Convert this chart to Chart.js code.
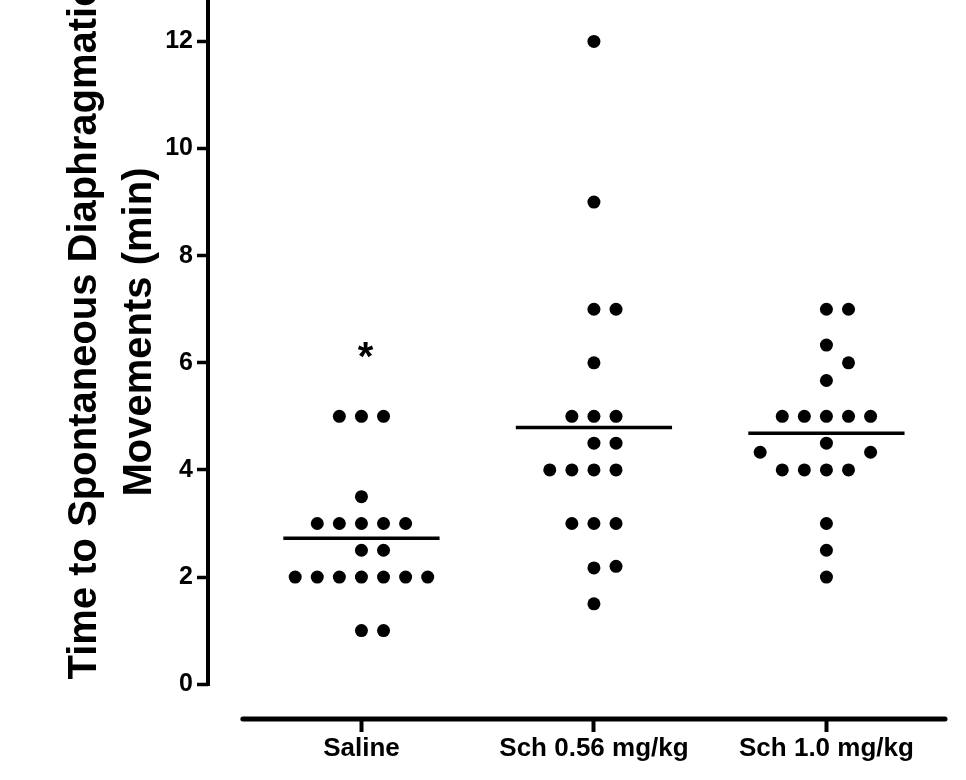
<!DOCTYPE html>
<html>
<head>
<meta charset="utf-8">
<script src="https://cdn.jsdelivr.net/npm/chart.js@4.4.1/dist/chart.umd.min.js"></script>
<style>
  html, body { margin: 0; padding: 0; background: #fff; overflow: hidden; }
  #wrap { width: 966px; height: 780px; overflow: hidden; }
  /* the original figure is cropped at the top, so the canvas is taller and pulled up */
  #dotPlot { display: block; margin-top: -65px; }
</style>
</head>
<body>
<div id="wrap"><canvas id="dotPlot" width="966" height="845"></canvas></div>
<script>
// --- data (minutes) ---
const groups = ['Saline', 'Sch 0.56 mg/kg', 'Sch 1.0 mg/kg'];
const saline = [5, 5, 5, 3.5, 3, 3, 3, 3, 3, 2.5, 2.5, 2, 2, 2, 2, 2, 2, 2, 1, 1];
const sch056 = [12, 9, 7, 7, 6, 5, 5, 5, 4.5, 4.5, 4, 4, 4, 4, 3, 3, 3, 2.2, 2.17, 1.5];
const sch10 = [7, 7, 6.33, 6, 5.67, 5, 5, 5, 5, 5, 4.5, 4.33, 4.33, 4, 4, 4, 4, 3, 2.5, 2];
const significance = ['*', '', ''];
const yTicks = [0, 2, 4, 6, 8, 10, 12];
const seriesValues = [saline, sch056, sch10];

// --- layout constants ---
const FONT = '"Liberation Sans", Arial, sans-serif';
const SLOT = 0.095;              // horizontal step between side-by-side dots (x units)
const SLOT_PX = 22, Y_PX = 53.6, MIN_GAP_PX = 21;
const MEAN_HALF = 0.336;         // half length of the mean bar (x units)
const X_LINE = [-0.51, 2.51];    // extent of the detached x axis line
const SIG_GAP = 0.86;

// simple beeswarm: place dots bottom-up in the nearest free slot to the centre.
// tied values alternate sides; long tie rows start on the left, others on the right
function swarm(values, center) {
  const placed = [];
  const sorted = values.slice().sort((a, b) => a - b);
  sorted.forEach(v => {
    const ties = placed.filter(p => p.y === v);
    let dir = sorted.filter(w => w === v).length >= 4 ? -1 : 1;
    if (ties.length) {
      const last = ties[ties.length - 1].slot;
      if (last > 0) dir = -1;
      else if (last < 0) dir = 1;
    }
    for (let k = 0; ; k++) {
      const slot = k === 0 ? 0 : (k % 2 ? dir * Math.ceil(k / 2) : -dir * k / 2);
      const hit = placed.some(p => Math.hypot((p.slot - slot) * SLOT_PX, (p.y - v) * Y_PX) < MIN_GAP_PX);
      if (!hit) { placed.push({ slot: slot, y: v }); break; }
    }
  });
  return placed.map(p => ({ x: center + p.slot * SLOT, y: p.y }));
}

function mean(arr) {
  return arr.reduce((a, b) => a + b, 0) / arr.length;
}

const datasets = [];
seriesValues.forEach((vals, i) => {
  datasets.push({
    label: groups[i],
    data: swarm(vals, i),
    pointRadius: 6.5,
    pointHoverRadius: 6.5,
    pointBackgroundColor: '#000',
    pointBorderWidth: 0,
    showLine: false
  });
  const m = mean(vals);
  datasets.push({
    label: groups[i] + ' mean',
    data: [{ x: i - MEAN_HALF, y: m }, { x: i + MEAN_HALF, y: m }],
    showLine: true,
    borderColor: '#000',
    borderWidth: 3.5,
    pointRadius: 0
  });
});

// axis lines drawn like the GraphPad original: y axis stops at 0, x axis is detached
const axisLines = {
  id: 'axisLines',
  afterDraw(chart) {
    const { ctx, chartArea, scales: { x, y } } = chart;
    ctx.save();
    ctx.strokeStyle = '#000';
    ctx.lineWidth = 4;
    ctx.beginPath();
    ctx.moveTo(chartArea.left, y.getPixelForValue(0) + 1.75);
    ctx.lineTo(chartArea.left, chartArea.top);
    ctx.stroke();

    ctx.lineCap = 'round';
    ctx.lineWidth = 5;
    ctx.beginPath();
    ctx.moveTo(x.getPixelForValue(X_LINE[0]), chartArea.bottom);
    ctx.lineTo(x.getPixelForValue(X_LINE[1]), chartArea.bottom);
    ctx.stroke();

    ctx.fillStyle = '#000';
    ctx.font = 'bold 40px ' + FONT;
    ctx.textAlign = 'center';
    ctx.textBaseline = 'alphabetic';
    significance.forEach((s, i) => {
      if (!s) return;
      const top = Math.max(...seriesValues[i]);
      ctx.fillText(s, x.getPixelForValue(i) + 4, y.getPixelForValue(top + SIG_GAP));
    });
    ctx.restore();
  }
};

Chart.defaults.font.family = FONT;
Chart.defaults.color = '#000';

new Chart(document.getElementById('dotPlot'), {
  type: 'scatter',
  data: { datasets: datasets },
  options: {
    responsive: false,
    animation: false,
    layout: { padding: { top: 10, left: 0, right: 21, bottom: 0 } },
    plugins: {
      legend: { display: false },
      tooltip: { enabled: false }
    },
    scales: {
      x: {
        type: 'linear',
        min: -0.66,
        max: 2.51,
        border: { display: false },
        grid: {
          drawOnChartArea: false,
          drawTicks: true,
          tickLength: 13,
          tickWidth: 4,
          tickColor: '#000'
        },
        afterBuildTicks: s => { s.ticks = groups.map((g, i) => ({ value: i })); },
        afterFit: s => { s.height = 61; s.paddingLeft = 0; s.paddingRight = 0; },
        ticks: {
          autoSkip: false,
          maxRotation: 0,
          padding: 1,
          color: '#000',
          font: { size: 26, weight: 'bold' },
          callback: v => groups[v]
        }
      },
      y: {
        min: -0.65,
        max: 13.8,
        border: { display: false },
        grid: {
          drawOnChartArea: false,
          drawTicks: true,
          tickLength: 11,
          tickWidth: 3.5,
          tickColor: '#000'
        },
        afterBuildTicks: s => { s.ticks = yTicks.map(v => ({ value: v })); },
        afterFit: s => { s.width = 208; s.paddingTop = 0; s.paddingBottom = 0; },
        ticks: {
          padding: 4,
          color: '#000',
          font: { size: 25, weight: 'bold' }
        },
        title: {
          display: true,
          text: ['Time to Spontaneous Diaphragmatic', 'Movements (min)'],
          color: '#000',
          font: { size: 40, weight: 'bold', lineHeight: 1.375 },
          padding: { top: 57, bottom: 0 }
        }
      }
    }
  },
  plugins: [axisLines]
});
</script>
</body>
</html>
